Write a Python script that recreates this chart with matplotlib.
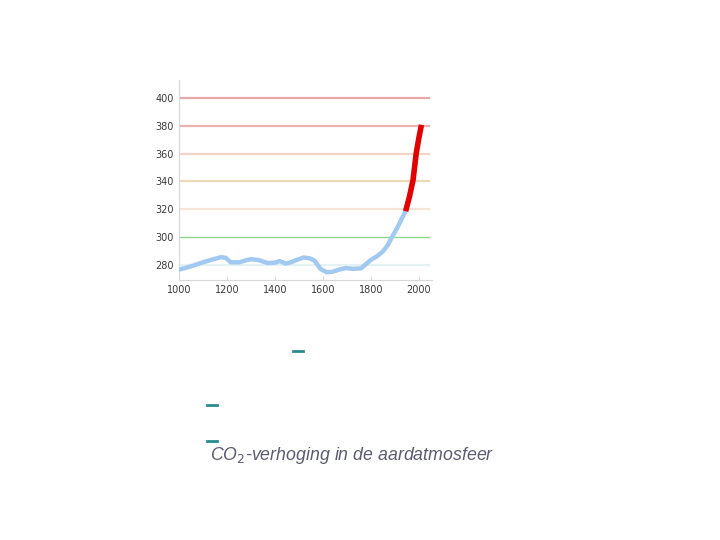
import matplotlib
matplotlib.use("Agg")
import matplotlib.pyplot as plt

# CO2 concentration (ppm)
years_pre = [1000, 1030, 1060, 1090, 1115, 1145, 1175, 1195, 1215, 1250, 1280, 1300, 1330,
             1370, 1400, 1420, 1445, 1470, 1490, 1520, 1545, 1565, 1590, 1615, 1640,
             1665, 1695, 1725, 1760, 1780, 1800, 1825, 1850, 1870, 1890, 1910, 1930, 1945]
ppm_pre = [276.5, 277.8, 279.4, 281.2, 282.5, 284.0, 285.4, 285.0, 281.8, 281.7, 283.2, 284.0, 283.4,
           281.2, 281.5, 282.6, 280.8, 282.0, 283.4, 285.2, 284.6, 283.0, 277.0, 274.6, 274.9,
           276.3, 277.6, 277.0, 277.4, 280.5, 283.5, 286.0, 289.5, 294.0, 300.5, 306.5, 313.5, 318.5]

years_post = [1945, 1961, 1976, 1989, 2000, 2011]
ppm_post = [318.5, 329.0, 341.0, 360.0, 371.0, 380.7]

grid_vals = [400, 380, 360, 340, 320, 300, 280]
grid_cols = ['#e8a8a8', '#eeb0b0', '#f5d4c8', '#eed8b8', '#f7e4d8', '#8cd88c', '#e4f2f2']

x_ticks = [1000, 1200, 1400, 1600, 1800, 2000]
y_ticks = [280, 300, 320, 340, 360, 380, 400]

caption = '-verhoging in de aardatmosfeer'

fig = plt.figure(figsize=(7.2, 5.4), dpi=100)
ax = fig.add_axes([0.2486, 0.4815, 0.3514, 0.3704])

for v, c in zip(grid_vals, grid_cols):
    ax.axhline(v, xmin=0, xmax=0.99, color=c, linewidth=1.6 if v != 300 else 1.0, zorder=1)

ax.plot(years_pre, ppm_pre, color='#a2caf0', linewidth=3.2, solid_capstyle='round', zorder=3)
ax.plot(years_post, ppm_post, color='#e00000', linewidth=4, solid_capstyle='butt', zorder=4)

ax.set_xlim(1000, 2055)
ax.set_ylim(269, 413)
ax.set_xticks(x_ticks)
ax.set_yticks(y_ticks)
ax.tick_params(axis='both', labelsize=7, colors='#cccccc', labelcolor='#3a3a3a',
               direction='in', length=3, width=0.6)
ax.tick_params(axis='y', length=0)
for s in ['top', 'right']:
    ax.spines[s].set_visible(False)
for s in ['left', 'bottom']:
    ax.spines[s].set_color('#d8d8d8')
    ax.spines[s].set_linewidth(0.8)

# small teal dashes from the slide
for (x0, x1, y) in [(293, 303, 351), (207, 217, 405), (207, 217, 441)]:
    fig.add_artist(plt.Line2D([x0 / 720, x1 / 720], [1 - y / 540, 1 - y / 540],
                              color='#2a8c8c', linewidth=2))

fig.text(210 / 720, 1 - 460 / 540, r'CO$_2$' + caption, fontsize=12.8, style='italic',
         color='#5c5c70', family='Liberation Sans')

fig.savefig('out.png', dpi=100)
